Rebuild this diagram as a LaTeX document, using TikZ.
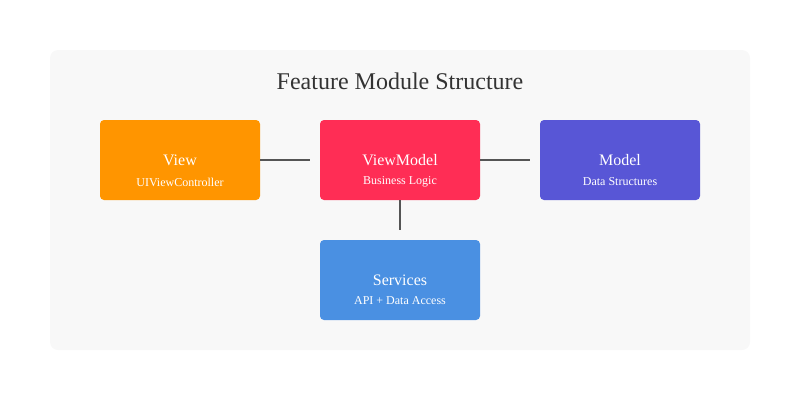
\documentclass[tikz,border=0pt]{standalone}
\usepackage{fontspec}
\setmainfont{Liberation Serif}
\definecolor{panel}{HTML}{F8F8F8}
\definecolor{cView}{HTML}{FF9500}
\definecolor{cVM}{HTML}{FF2D55}
\definecolor{cModel}{HTML}{5856D6}
\definecolor{cServ}{HTML}{4A90E2}
\definecolor{lineC}{HTML}{555555}
\definecolor{titleC}{HTML}{333333}
\begin{document}
\begin{tikzpicture}[x=1bp,y=-1bp,
  box/.style={rounded corners=4bp,minimum width=160bp,minimum height=80bp,inner sep=0pt,draw=none},
  lbl/.style={text=white,font=\fontsize{16bp}{18bp}\selectfont},
  sub/.style={text=white,font=\fontsize{12bp}{14bp}\selectfont},
  conn/.style={draw=lineC,line width=1.5bp}]
\useasboundingbox (0,0) rectangle (800,400);
\fill[panel,rounded corners=8bp] (50,50) rectangle (750,350);
\node[text=titleC,font=\fontsize{24bp}{28bp}\selectfont] (title) at (400,81) {Feature Module Structure};
\node[box,fill=cView] (view) at (180,160) {};
\node[box,fill=cVM] (vm) at (400,160) {};
\node[box,fill=cModel] (model) at (620,160) {};
\node[box,fill=cServ] (serv) at (400,280) {};
\node[lbl] (viewL) at (180,160) {View};
\node[sub] (viewS) at (180,182) {UIViewController};
\node[lbl] (vmL) at (400,160) {ViewModel};
\node[sub] (vmS) at (400,182) {Business Logic};
\node[lbl] (modelL) at (620,160) {Model};
\node[sub] (modelS) at (620,182) {Data Structures};
\node[lbl] (servL) at (400,280) {Services};
\node[sub] (servS) at (400,301) {API + Data Access};
\coordinate (c1) at (310,160);
\coordinate (c2) at (530,160);
\coordinate (c3) at (400,230);
\draw[conn] (view.east) -- (c1);
\draw[conn] (vm.east) -- (c2);
\draw[conn] (vm.south) -- (c3);
\end{tikzpicture}
\end{document}
